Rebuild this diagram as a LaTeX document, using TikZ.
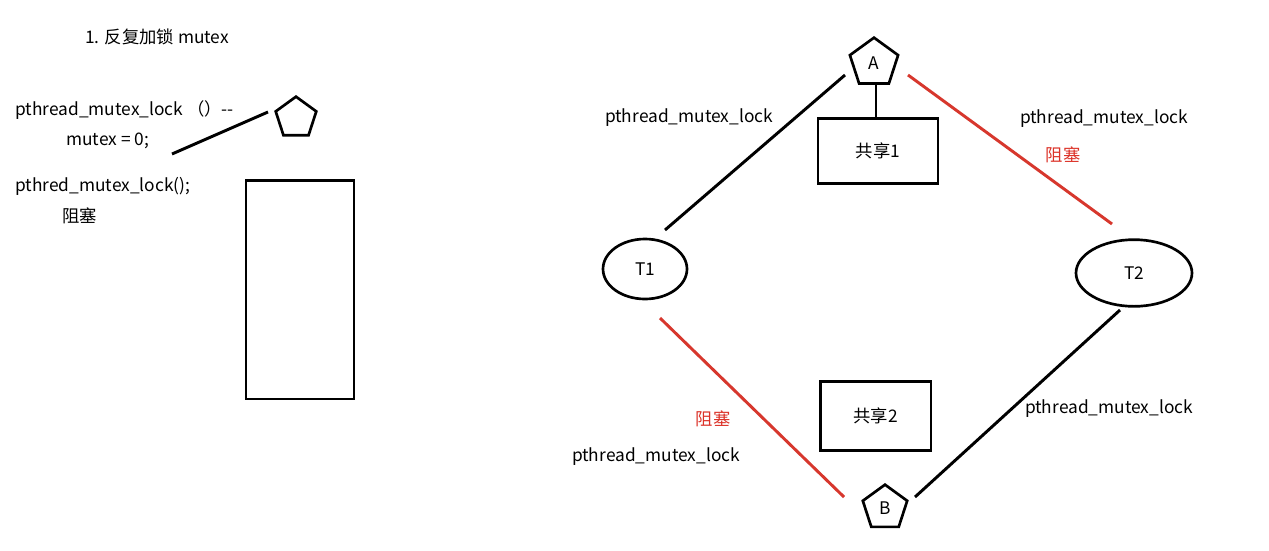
\documentclass[tikz,border=0pt]{standalone}
\usepackage{fontspec}
\setmainfont{Noto Sans CJK SC}
\usetikzlibrary{shapes.geometric}
\begin{document}
\begin{tikzpicture}[x=0.75pt,y=-0.75pt,
  lbl/.style={font=\fontsize{13}{15}\selectfont,inner sep=0},
  redlbl/.style={lbl,text={rgb,255:red,220;green,50;blue,40}},
  ln/.style={line width=2.2pt},
  redln/.style={line width=2.2pt,draw={rgb,255:red,215;green,55;blue,45}},
  pent/.style={regular polygon,regular polygon sides=5,draw,line width=2pt,minimum size=#1,inner sep=0},
  box/.style={draw,line width=2pt},
  ell/.style={ellipse,draw,line width=2pt}]
\useasboundingbox (0,0) rectangle (1269,550);
\fill[white] (0,0) rectangle (1269,550);
% left part
\node[lbl,anchor=west] (t1) at (85,37) {1. 反复加锁 mutex};
\node[lbl,anchor=west] (t2) at (15,110) {pthread\_mutex\_lock （）{-}{-}};
\node[lbl,anchor=west] (t3) at (66,141) {mutex = 0;};
\node[lbl,anchor=west] (t4) at (15,186) {pthred\_mutex\_lock();};
\node[lbl,anchor=west] (t5) at (62,216) {阻塞};
\coordinate (l1) at (172,154); \coordinate (l2) at (268,112);
\draw[ln] (l1) -- (l2);
\node[pent=32pt] (p0) at (296,118) {};
\node[box,minimum width=81pt,minimum height=164pt] (r0) at (300,289.5) {};
% right part
\node[pent=38pt,font=\fontsize{13}{15}\selectfont] (A) at (874,63) {A};
\node[pent=35pt,font=\fontsize{13}{15}\selectfont] (B) at (885,508) {B};
\node[box,minimum width=90pt,minimum height=49pt,font=\fontsize{13}{15}\selectfont] (s1) at (878,151) {共享1};
\node[box,minimum width=83pt,minimum height=52pt,font=\fontsize{13}{15}\selectfont] (s2) at (875.5,416) {共享2};
\node[ell,minimum width=63pt,minimum height=45pt,font=\fontsize{13}{15}\selectfont] (T1) at (645,269) {T1};
\node[ell,minimum width=87pt,minimum height=50pt,font=\fontsize{13}{15}\selectfont] (T2) at (1134,273) {T2};
\draw[ln] (876,82) -- (s1.north -| 876,0);
\coordinate (a1) at (665,230); \coordinate (a2) at (845,75);
\draw[ln] (a1) -- (a2);
\coordinate (a3) at (908,75); \coordinate (a4) at (1112,224);
\draw[redln] (a3) -- (a4);
\coordinate (b1) at (660,318); \coordinate (b2) at (844,497);
\draw[redln] (b1) -- (b2);
\coordinate (b3) at (1120,310); \coordinate (b4) at (915,497);
\draw[ln] (b3) -- (b4);
\node[lbl] (L1) at (689,118) {pthread\_mutex\_lock};
\node[lbl] (L2) at (1104,119) {pthread\_mutex\_lock};
\node[redlbl] (R1) at (1063,155) {阻塞};
\node[redlbl] (R2) at (713,419) {阻塞};
\node[lbl] (L3) at (656,457) {pthread\_mutex\_lock};
\node[lbl] (L4) at (1109,409) {pthread\_mutex\_lock};
\end{tikzpicture}
\end{document}
